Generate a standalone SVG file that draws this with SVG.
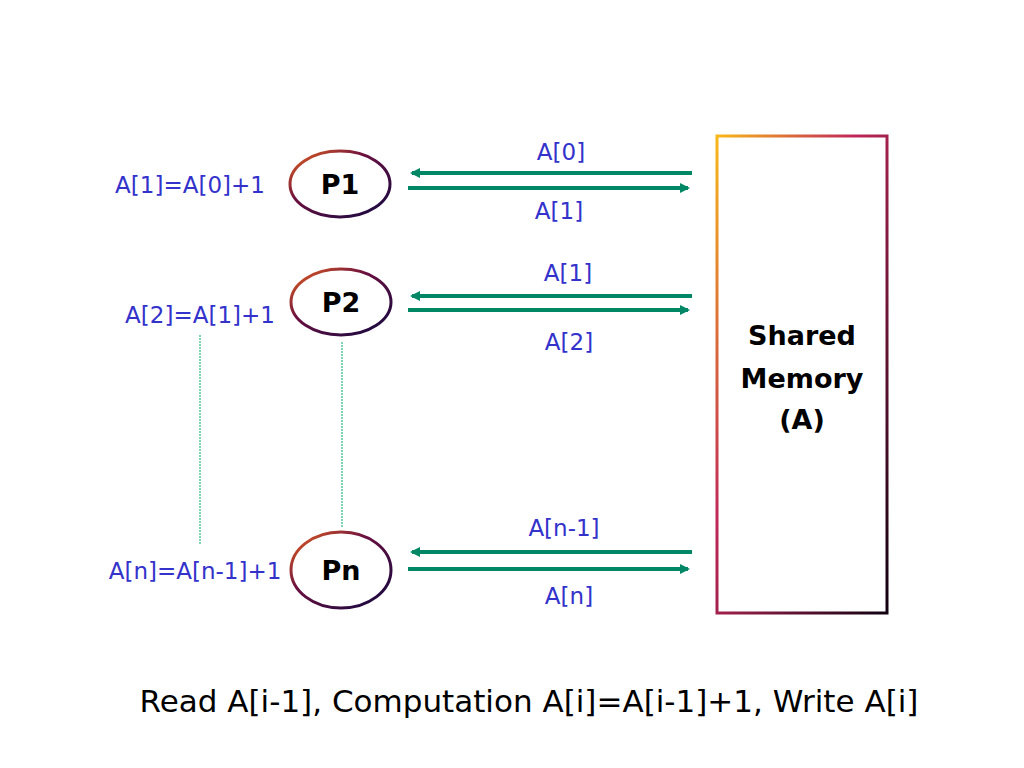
<svg xmlns="http://www.w3.org/2000/svg" width="1024" height="768" viewBox="0 0 1024 768">
<style>
.lbl{font-family:"DejaVu Sans",sans-serif;font-size:23px;fill:#3333cc}
.node{font-family:"DejaVu Sans",sans-serif;font-size:27px;font-weight:bold;fill:#000}
.arr{stroke:#008866;stroke-width:4;fill:none}
.dot{stroke:#00aa66;stroke-width:1;stroke-dasharray:2 1;fill:none}
</style>
<defs>
<linearGradient id="eg" x1="0" y1="0" x2="1" y2="1"><stop offset="0" stop-color="#e8641c"/><stop offset="0.4" stop-color="#6a1040"/><stop offset="1" stop-color="#100840"/></linearGradient>
<linearGradient id="bg" x1="0" y1="0" x2="1" y2="1"><stop offset="0" stop-color="#f8b818"/><stop offset="0.4" stop-color="#c02858"/><stop offset="1" stop-color="#100010"/></linearGradient>
<marker id="ah" markerWidth="2.5" markerHeight="2.5" refX="2" refY="1.25" orient="auto" markerUnits="strokeWidth"><path d="M0,0 L2.5,1.25 L0,2.5 Z" fill="#008866"/></marker>
</defs>
<rect width="1024" height="768" fill="#fff"/>
<g id="connectors">
<line class="arr" x1="692" y1="173" x2="412" y2="173" marker-end="url(#ah)"/>
<line class="arr" x1="408" y1="188" x2="688" y2="188" marker-end="url(#ah)"/>
<line class="arr" x1="692" y1="296" x2="412" y2="296" marker-end="url(#ah)"/>
<line class="arr" x1="408" y1="310" x2="688" y2="310" marker-end="url(#ah)"/>
<line class="arr" x1="692" y1="552" x2="412" y2="552" marker-end="url(#ah)"/>
<line class="arr" x1="408" y1="569" x2="688" y2="569" marker-end="url(#ah)"/>
<line class="dot" x1="200" y1="335" x2="200" y2="545"/>
<line class="dot" x1="342" y1="342" x2="342" y2="528"/>
</g>
<g id="memory"><rect x="717" y="136" width="170" height="477" fill="#fff" stroke="url(#bg)" stroke-width="3"/>
<text class="node" x="802" y="345" text-anchor="middle" font-size="29">Shared</text>
<text class="node" x="802" y="388" text-anchor="middle" font-size="29">Memory</text>
<text class="node" x="802" y="429" text-anchor="middle" font-size="29">(A)</text></g>
<g id="p1"><ellipse cx="340" cy="184" rx="50" ry="33" fill="#fff" stroke="url(#eg)" stroke-width="3"/><text class="node" x="340" y="194" text-anchor="middle">P1</text></g>
<g id="p2"><ellipse cx="341" cy="302" rx="50" ry="33" fill="#fff" stroke="url(#eg)" stroke-width="3"/><text class="node" x="341" y="312" text-anchor="middle">P2</text></g>
<g id="pn"><ellipse cx="341" cy="570" rx="50" ry="38" fill="#fff" stroke="url(#eg)" stroke-width="3"/><text class="node" x="341" y="580" text-anchor="middle">Pn</text></g>
<g id="labels">
<text class="lbl" x="190" y="193" text-anchor="middle">A[1]=A[0]+1</text>
<text class="lbl" x="200" y="323" text-anchor="middle">A[2]=A[1]+1</text>
<text class="lbl" x="195" y="579" text-anchor="middle">A[n]=A[n-1]+1</text>
<text class="lbl" x="561" y="160" text-anchor="middle">A[0]</text>
<text class="lbl" x="559" y="219" text-anchor="middle">A[1]</text>
<text class="lbl" x="568" y="281" text-anchor="middle">A[1]</text>
<text class="lbl" x="569" y="350" text-anchor="middle">A[2]</text>
<text class="lbl" x="564" y="536" text-anchor="middle">A[n-1]</text>
<text class="lbl" x="569" y="604" text-anchor="middle">A[n]</text>
</g>
<text x="529" y="712" text-anchor="middle" font-family="DejaVu Sans,sans-serif" font-size="31" fill="#000">Read A[i-1], Computation A[i]=A[i-1]+1, Write A[i]</text>
</svg>
